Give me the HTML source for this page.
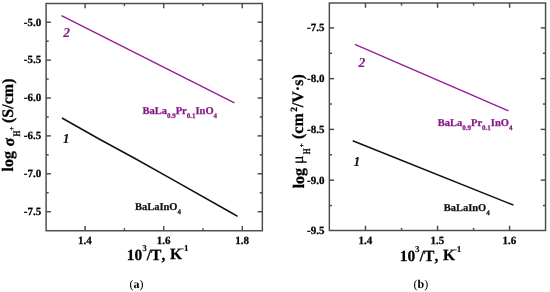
<!DOCTYPE html>
<html><head><meta charset="utf-8"><style>
html,body{margin:0;padding:0;background:#fff;}
svg{display:block;text-rendering:geometricPrecision;font-family:'Liberation Serif', 'Times New Roman', serif;}
</style></head><body>
<svg width="550" height="292" viewBox="0 0 550 292">
<rect width="550" height="292" fill="#fff"/>
<rect x="46.10" y="3.50" width="216.25" height="227.25" fill="none" stroke="#4a4a4a" stroke-width="1.45"/>
<line x1="85.10" y1="230.75" x2="85.10" y2="225.95" stroke="#4a4a4a" stroke-width="1.45" stroke-linecap="butt"/>
<line x1="85.10" y1="3.50" x2="85.10" y2="8.30" stroke="#4a4a4a" stroke-width="1.45" stroke-linecap="butt"/>
<line x1="163.70" y1="230.75" x2="163.70" y2="225.95" stroke="#4a4a4a" stroke-width="1.45" stroke-linecap="butt"/>
<line x1="163.70" y1="3.50" x2="163.70" y2="8.30" stroke="#4a4a4a" stroke-width="1.45" stroke-linecap="butt"/>
<line x1="242.30" y1="230.75" x2="242.30" y2="225.95" stroke="#4a4a4a" stroke-width="1.45" stroke-linecap="butt"/>
<line x1="242.30" y1="3.50" x2="242.30" y2="8.30" stroke="#4a4a4a" stroke-width="1.45" stroke-linecap="butt"/>
<line x1="124.40" y1="230.75" x2="124.40" y2="228.15" stroke="#4a4a4a" stroke-width="1.45" stroke-linecap="butt"/>
<line x1="124.40" y1="3.50" x2="124.40" y2="6.10" stroke="#4a4a4a" stroke-width="1.45" stroke-linecap="butt"/>
<line x1="203.00" y1="230.75" x2="203.00" y2="228.15" stroke="#4a4a4a" stroke-width="1.45" stroke-linecap="butt"/>
<line x1="203.00" y1="3.50" x2="203.00" y2="6.10" stroke="#4a4a4a" stroke-width="1.45" stroke-linecap="butt"/>
<line x1="46.10" y1="22.20" x2="50.90" y2="22.20" stroke="#4a4a4a" stroke-width="1.45" stroke-linecap="butt"/>
<line x1="262.35" y1="22.20" x2="257.55" y2="22.20" stroke="#4a4a4a" stroke-width="1.45" stroke-linecap="butt"/>
<line x1="46.10" y1="60.10" x2="50.90" y2="60.10" stroke="#4a4a4a" stroke-width="1.45" stroke-linecap="butt"/>
<line x1="262.35" y1="60.10" x2="257.55" y2="60.10" stroke="#4a4a4a" stroke-width="1.45" stroke-linecap="butt"/>
<line x1="46.10" y1="98.00" x2="50.90" y2="98.00" stroke="#4a4a4a" stroke-width="1.45" stroke-linecap="butt"/>
<line x1="262.35" y1="98.00" x2="257.55" y2="98.00" stroke="#4a4a4a" stroke-width="1.45" stroke-linecap="butt"/>
<line x1="46.10" y1="135.90" x2="50.90" y2="135.90" stroke="#4a4a4a" stroke-width="1.45" stroke-linecap="butt"/>
<line x1="262.35" y1="135.90" x2="257.55" y2="135.90" stroke="#4a4a4a" stroke-width="1.45" stroke-linecap="butt"/>
<line x1="46.10" y1="173.80" x2="50.90" y2="173.80" stroke="#4a4a4a" stroke-width="1.45" stroke-linecap="butt"/>
<line x1="262.35" y1="173.80" x2="257.55" y2="173.80" stroke="#4a4a4a" stroke-width="1.45" stroke-linecap="butt"/>
<line x1="46.10" y1="211.70" x2="50.90" y2="211.70" stroke="#4a4a4a" stroke-width="1.45" stroke-linecap="butt"/>
<line x1="262.35" y1="211.70" x2="257.55" y2="211.70" stroke="#4a4a4a" stroke-width="1.45" stroke-linecap="butt"/>
<line x1="46.10" y1="41.15" x2="48.70" y2="41.15" stroke="#4a4a4a" stroke-width="1.45" stroke-linecap="butt"/>
<line x1="262.35" y1="41.15" x2="259.75" y2="41.15" stroke="#4a4a4a" stroke-width="1.45" stroke-linecap="butt"/>
<line x1="46.10" y1="79.05" x2="48.70" y2="79.05" stroke="#4a4a4a" stroke-width="1.45" stroke-linecap="butt"/>
<line x1="262.35" y1="79.05" x2="259.75" y2="79.05" stroke="#4a4a4a" stroke-width="1.45" stroke-linecap="butt"/>
<line x1="46.10" y1="116.95" x2="48.70" y2="116.95" stroke="#4a4a4a" stroke-width="1.45" stroke-linecap="butt"/>
<line x1="262.35" y1="116.95" x2="259.75" y2="116.95" stroke="#4a4a4a" stroke-width="1.45" stroke-linecap="butt"/>
<line x1="46.10" y1="154.85" x2="48.70" y2="154.85" stroke="#4a4a4a" stroke-width="1.45" stroke-linecap="butt"/>
<line x1="262.35" y1="154.85" x2="259.75" y2="154.85" stroke="#4a4a4a" stroke-width="1.45" stroke-linecap="butt"/>
<line x1="46.10" y1="192.75" x2="48.70" y2="192.75" stroke="#4a4a4a" stroke-width="1.45" stroke-linecap="butt"/>
<line x1="262.35" y1="192.75" x2="259.75" y2="192.75" stroke="#4a4a4a" stroke-width="1.45" stroke-linecap="butt"/>
<text x="84.80" y="244.07" font-size="11" text-anchor="middle" font-weight="bold" font-style="normal" fill="#000" stroke="#000" stroke-width="0.25" >1.4</text>
<text x="163.63" y="244.07" font-size="11" text-anchor="middle" font-weight="bold" font-style="normal" fill="#000" stroke="#000" stroke-width="0.25" >1.6</text>
<text x="242.08" y="244.07" font-size="11" text-anchor="middle" font-weight="bold" font-style="normal" fill="#000" stroke="#000" stroke-width="0.25" >1.8</text>
<text x="41.20" y="25.52" font-size="11" text-anchor="end" font-weight="bold" font-style="normal" fill="#000" stroke="#000" stroke-width="0.25" >-5.0</text>
<text x="41.20" y="63.20" font-size="11" text-anchor="end" font-weight="bold" font-style="normal" fill="#000" stroke="#000" stroke-width="0.25" >-5.5</text>
<text x="41.20" y="101.38" font-size="11" text-anchor="end" font-weight="bold" font-style="normal" fill="#000" stroke="#000" stroke-width="0.25" >-6.0</text>
<text x="41.20" y="139.17" font-size="11" text-anchor="end" font-weight="bold" font-style="normal" fill="#000" stroke="#000" stroke-width="0.25" >-6.5</text>
<text x="41.20" y="177.22" font-size="11" text-anchor="end" font-weight="bold" font-style="normal" fill="#000" stroke="#000" stroke-width="0.25" >-7.0</text>
<text x="41.20" y="214.90" font-size="11" text-anchor="end" font-weight="bold" font-style="normal" fill="#000" stroke="#000" stroke-width="0.25" >-7.5</text>
<rect x="329.35" y="3.00" width="216.20" height="227.50" fill="none" stroke="#4a4a4a" stroke-width="1.45"/>
<line x1="365.50" y1="230.50" x2="365.50" y2="225.70" stroke="#4a4a4a" stroke-width="1.45" stroke-linecap="butt"/>
<line x1="365.50" y1="3.00" x2="365.50" y2="7.80" stroke="#4a4a4a" stroke-width="1.45" stroke-linecap="butt"/>
<line x1="437.55" y1="230.50" x2="437.55" y2="225.70" stroke="#4a4a4a" stroke-width="1.45" stroke-linecap="butt"/>
<line x1="437.55" y1="3.00" x2="437.55" y2="7.80" stroke="#4a4a4a" stroke-width="1.45" stroke-linecap="butt"/>
<line x1="509.60" y1="230.50" x2="509.60" y2="225.70" stroke="#4a4a4a" stroke-width="1.45" stroke-linecap="butt"/>
<line x1="509.60" y1="3.00" x2="509.60" y2="7.80" stroke="#4a4a4a" stroke-width="1.45" stroke-linecap="butt"/>
<line x1="401.53" y1="230.50" x2="401.53" y2="227.90" stroke="#4a4a4a" stroke-width="1.45" stroke-linecap="butt"/>
<line x1="401.53" y1="3.00" x2="401.53" y2="5.60" stroke="#4a4a4a" stroke-width="1.45" stroke-linecap="butt"/>
<line x1="473.58" y1="230.50" x2="473.58" y2="227.90" stroke="#4a4a4a" stroke-width="1.45" stroke-linecap="butt"/>
<line x1="473.58" y1="3.00" x2="473.58" y2="5.60" stroke="#4a4a4a" stroke-width="1.45" stroke-linecap="butt"/>
<line x1="329.35" y1="27.90" x2="334.15" y2="27.90" stroke="#4a4a4a" stroke-width="1.45" stroke-linecap="butt"/>
<line x1="545.55" y1="27.90" x2="540.75" y2="27.90" stroke="#4a4a4a" stroke-width="1.45" stroke-linecap="butt"/>
<line x1="329.35" y1="78.65" x2="334.15" y2="78.65" stroke="#4a4a4a" stroke-width="1.45" stroke-linecap="butt"/>
<line x1="545.55" y1="78.65" x2="540.75" y2="78.65" stroke="#4a4a4a" stroke-width="1.45" stroke-linecap="butt"/>
<line x1="329.35" y1="129.40" x2="334.15" y2="129.40" stroke="#4a4a4a" stroke-width="1.45" stroke-linecap="butt"/>
<line x1="545.55" y1="129.40" x2="540.75" y2="129.40" stroke="#4a4a4a" stroke-width="1.45" stroke-linecap="butt"/>
<line x1="329.35" y1="180.15" x2="334.15" y2="180.15" stroke="#4a4a4a" stroke-width="1.45" stroke-linecap="butt"/>
<line x1="545.55" y1="180.15" x2="540.75" y2="180.15" stroke="#4a4a4a" stroke-width="1.45" stroke-linecap="butt"/>
<line x1="329.35" y1="53.27" x2="331.95" y2="53.27" stroke="#4a4a4a" stroke-width="1.45" stroke-linecap="butt"/>
<line x1="545.55" y1="53.27" x2="542.95" y2="53.27" stroke="#4a4a4a" stroke-width="1.45" stroke-linecap="butt"/>
<line x1="329.35" y1="104.03" x2="331.95" y2="104.03" stroke="#4a4a4a" stroke-width="1.45" stroke-linecap="butt"/>
<line x1="545.55" y1="104.03" x2="542.95" y2="104.03" stroke="#4a4a4a" stroke-width="1.45" stroke-linecap="butt"/>
<line x1="329.35" y1="154.78" x2="331.95" y2="154.78" stroke="#4a4a4a" stroke-width="1.45" stroke-linecap="butt"/>
<line x1="545.55" y1="154.78" x2="542.95" y2="154.78" stroke="#4a4a4a" stroke-width="1.45" stroke-linecap="butt"/>
<line x1="329.35" y1="205.53" x2="331.95" y2="205.53" stroke="#4a4a4a" stroke-width="1.45" stroke-linecap="butt"/>
<line x1="545.55" y1="205.53" x2="542.95" y2="205.53" stroke="#4a4a4a" stroke-width="1.45" stroke-linecap="butt"/>
<text x="365.35" y="243.72" font-size="11" text-anchor="middle" font-weight="bold" font-style="normal" fill="#000" stroke="#000" stroke-width="0.25" >1.4</text>
<text x="437.33" y="243.72" font-size="11" text-anchor="middle" font-weight="bold" font-style="normal" fill="#000" stroke="#000" stroke-width="0.25" >1.5</text>
<text x="509.43" y="243.72" font-size="11" text-anchor="middle" font-weight="bold" font-style="normal" fill="#000" stroke="#000" stroke-width="0.25" >1.6</text>
<text x="324.40" y="31.35" font-size="11" text-anchor="end" font-weight="bold" font-style="normal" fill="#000" stroke="#000" stroke-width="0.25" >-7.5</text>
<text x="324.40" y="82.23" font-size="11" text-anchor="end" font-weight="bold" font-style="normal" fill="#000" stroke="#000" stroke-width="0.25" >-8.0</text>
<text x="324.40" y="132.98" font-size="11" text-anchor="end" font-weight="bold" font-style="normal" fill="#000" stroke="#000" stroke-width="0.25" >-8.5</text>
<text x="324.40" y="183.73" font-size="11" text-anchor="end" font-weight="bold" font-style="normal" fill="#000" stroke="#000" stroke-width="0.25" >-9.0</text>
<text x="324.40" y="234.48" font-size="11" text-anchor="end" font-weight="bold" font-style="normal" fill="#000" stroke="#000" stroke-width="0.25" >-9.5</text>
<polyline points="61.50,15.60 234.40,102.90" fill="none" stroke="#961c98" stroke-width="1.35" stroke-linejoin="round"/>
<polyline points="62.00,118.00 100.00,139.50 135.00,158.50 170.00,178.10 230.00,212.00 237.60,216.40" fill="none" stroke="#111" stroke-width="1.5" stroke-linejoin="round"/>
<polyline points="354.90,44.40 508.50,110.80" fill="none" stroke="#961c98" stroke-width="1.35" stroke-linejoin="round"/>
<polyline points="352.70,140.80 513.50,205.10" fill="none" stroke="#111" stroke-width="1.5" stroke-linejoin="round"/>
<text x="63.13" y="36.85" font-size="13.5" text-anchor="start" font-weight="bold" font-style="italic" fill="#861686" stroke="#861686" stroke-width="0.1" >2</text>
<text x="62.85" y="142.85" font-size="13.5" text-anchor="start" font-weight="bold" font-style="italic" fill="#111" stroke="#111" stroke-width="0.1" >1</text>
<text x="358.52" y="66.60" font-size="13.5" text-anchor="start" font-weight="bold" font-style="italic" fill="#861686" stroke="#861686" stroke-width="0.1" >2</text>
<text x="353.57" y="165.85" font-size="13.5" text-anchor="start" font-weight="bold" font-style="italic" fill="#111" stroke="#111" stroke-width="0.1" >1</text>
<text x="142.38" y="114.14" font-size="10.5" text-anchor="start" font-weight="bold" font-style="normal" fill="#861686" stroke="#861686" stroke-width="0.25" >BaLa<tspan font-size="7" dy="4">0.9</tspan><tspan dy="-4">Pr</tspan><tspan font-size="7" dy="4">0.1</tspan><tspan dy="-4">InO</tspan><tspan font-size="7" dy="4">4</tspan></text>
<text x="134.94" y="209.61" font-size="10.5" text-anchor="start" font-weight="bold" font-style="normal" fill="#111" stroke="#111" stroke-width="0.25" >BaLaInO<tspan font-size="7" dy="4">4</tspan></text>
<text x="437.78" y="126.46" font-size="10.5" text-anchor="start" font-weight="bold" font-style="normal" fill="#861686" stroke="#861686" stroke-width="0.25" >BaLa<tspan font-size="7" dy="4">0.9</tspan><tspan dy="-4">Pr</tspan><tspan font-size="7" dy="4">0.1</tspan><tspan dy="-4">InO</tspan><tspan font-size="7" dy="4">4</tspan></text>
<text x="443.64" y="210.54" font-size="10.5" text-anchor="start" font-weight="bold" font-style="normal" fill="#111" stroke="#111" stroke-width="0.25" >BaLaInO<tspan font-size="7" dy="4">4</tspan></text>
<text x="126.86" y="259.61" font-size="15.5" text-anchor="start" font-weight="bold" font-style="normal" fill="#000" stroke="#000" stroke-width="0.25" >10</text>
<text x="142.22" y="251.00" font-size="9" text-anchor="start" font-weight="bold" font-style="normal" fill="#000" stroke="#000" stroke-width="0.1" >3</text>
<text x="146.81" y="259.60" font-size="15.5" text-anchor="start" font-weight="bold" font-style="normal" fill="#000" stroke="#000" stroke-width="0.25" >/T</text>
<text x="161.54" y="259.97" font-size="15.5" text-anchor="start" font-weight="bold" font-style="normal" fill="#000" stroke="#000" stroke-width="0.25" >,</text>
<text x="169.96" y="259.46" font-size="15.5" text-anchor="start" font-weight="bold" font-style="normal" fill="#000" stroke="#000" stroke-width="0.25" >K</text>
<text x="180.96" y="251.00" font-size="9" text-anchor="start" font-weight="bold" font-style="normal" fill="#000" stroke="#000" stroke-width="0.1" >-1</text>
<text x="399.80" y="260.61" font-size="15.5" text-anchor="start" font-weight="bold" font-style="normal" fill="#000" stroke="#000" stroke-width="0.25" >10</text>
<text x="415.12" y="252.00" font-size="9" text-anchor="start" font-weight="bold" font-style="normal" fill="#000" stroke="#000" stroke-width="0.1" >3</text>
<text x="419.69" y="260.60" font-size="15.5" text-anchor="start" font-weight="bold" font-style="normal" fill="#000" stroke="#000" stroke-width="0.25" >/T</text>
<text x="434.42" y="260.97" font-size="15.5" text-anchor="start" font-weight="bold" font-style="normal" fill="#000" stroke="#000" stroke-width="0.25" >,</text>
<text x="442.88" y="260.46" font-size="15.5" text-anchor="start" font-weight="bold" font-style="normal" fill="#000" stroke="#000" stroke-width="0.25" >K</text>
<text x="453.88" y="252.00" font-size="9" text-anchor="start" font-weight="bold" font-style="normal" fill="#000" stroke="#000" stroke-width="0.1" >-1</text>
<text transform="rotate(-90)" x="-171.46" y="13.35" font-size="16" text-anchor="start" font-weight="bold" font-style="normal" fill="#000" stroke="#000" stroke-width="0.25" >log</text>
<text transform="rotate(-90)" x="-146.46" y="13.89" font-size="16" text-anchor="start" font-weight="bold" font-style="normal" fill="#000" stroke="#000" stroke-width="0.25" >σ</text>
<text transform="rotate(-90)" x="-136.45" y="19.70" font-size="10" text-anchor="start" font-weight="bold" font-style="normal" fill="#000" stroke="#000" stroke-width="0.25" textLength="5.8" lengthAdjust="spacingAndGlyphs">H</text>
<text transform="rotate(-90)" x="-130.50" y="14.44" font-size="7" text-anchor="start" font-weight="bold" font-style="normal" fill="#000" stroke="#000" stroke-width="0.25" >+</text>
<text transform="rotate(-90)" x="-122.96" y="13.00" font-size="16" text-anchor="start" font-weight="bold" font-style="normal" fill="#000" stroke="#000" stroke-width="0.25" >(S/cm)</text>
<text transform="rotate(-90)" x="-188.34" y="303.60" font-size="16" text-anchor="start" font-weight="bold" font-style="normal" fill="#000" stroke="#000" stroke-width="0.25" >log</text>
<text transform="rotate(-90)" x="-163.92" y="303.21" font-size="16" text-anchor="start" font-weight="normal" font-style="normal" fill="#000" stroke="#000" stroke-width="0.25" >μ</text>
<text transform="rotate(-90)" x="-154.15" y="309.90" font-size="10" text-anchor="start" font-weight="bold" font-style="normal" fill="#000" stroke="#000" stroke-width="0.25" textLength="5.8" lengthAdjust="spacingAndGlyphs">H</text>
<text transform="rotate(-90)" x="-147.19" y="303.74" font-size="7" text-anchor="start" font-weight="bold" font-style="normal" fill="#000" stroke="#000" stroke-width="0.25" >+</text>
<text transform="rotate(-90)" x="-138.98" y="303.25" font-size="16" text-anchor="start" font-weight="bold" font-style="normal" fill="#000" stroke="#000" stroke-width="0.25" >(cm</text>
<text transform="rotate(-90)" x="-111.81" y="297.20" font-size="9.5" text-anchor="start" font-weight="bold" font-style="normal" fill="#000" stroke="#000" stroke-width="0.25" >2</text>
<text transform="rotate(-90)" x="-107.16" y="303.00" font-size="16" text-anchor="start" font-weight="bold" font-style="normal" fill="#000" stroke="#000" stroke-width="0.25" >/V·s)</text>
<text x="129.51" y="288.10" font-size="12" text-anchor="start" font-weight="normal" font-style="normal" fill="#000" stroke="#000" stroke-width="0" >(<tspan font-weight="bold">a</tspan>)</text>
<text x="413.46" y="288.10" font-size="12" text-anchor="start" font-weight="normal" font-style="normal" fill="#000" stroke="#000" stroke-width="0" >(<tspan font-weight="bold">b</tspan>)</text>
</svg>
</body></html>
